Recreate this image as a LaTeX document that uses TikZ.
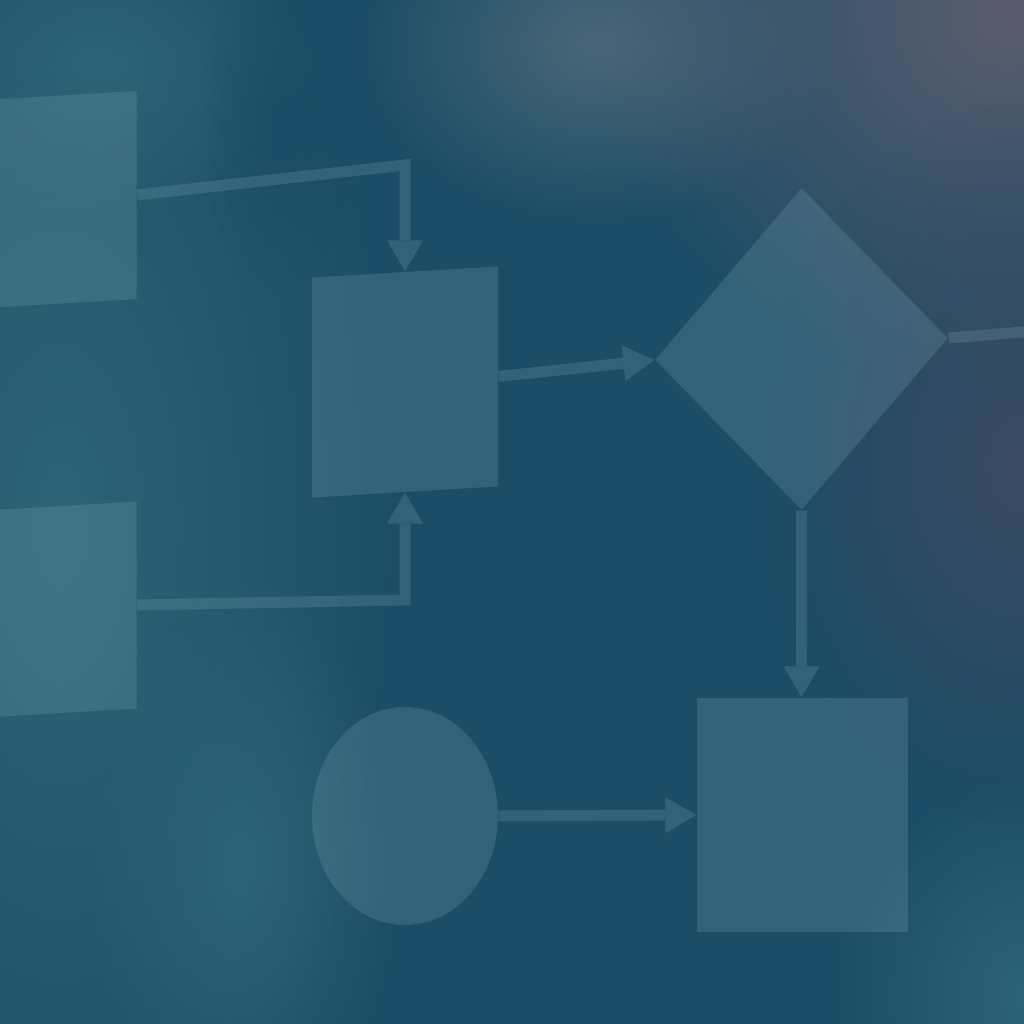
\documentclass[tikz,border=0pt]{standalone}
\usepackage{xcolor}
\usepackage{tikz}
\usetikzlibrary{arrows.meta}
\usetikzlibrary{shapes}
\usetikzlibrary{positioning}
\usetikzlibrary{fadings}
\definecolor{deepteal}{HTML}{1C4D66}
\definecolor{sideteal}{HTML}{2D6477}
\definecolor{hazeteal}{HTML}{4A6878}
\definecolor{dusk}{HTML}{5B5D6F}
\definecolor{duskblue}{HTML}{3A4A62}
\definecolor{shapetint}{HTML}{7FA9B8}
\tikzfading[name=fade out, inner color=transparent!0, outer color=transparent!100]
\tikzset{%
  glow/.style={
    path fading=fade out
  },
  box/.style={
    rectangle,
    draw=none,
    fill=shapetint,
    fill opacity=0.23,
    inner sep=0pt,
    yslant=0.06,
    transform shape
  },
  flow/.style={
    draw=shapetint,
    line width=0.11cm,
    -{Triangle[width=0.36cm,length=0.31cm,fill=shapetint,line width=0pt]}
  },
}

\begin{document}
\begin{tikzpicture}
  \useasboundingbox (0,0) rectangle (10.24,10.24);
  \clip (0,0) rectangle (10.24,10.24);
  % background haze
  \fill [deepteal] (0,0) rectangle (10.24,10.24);
  \fill [sideteal, glow] (0.6,5.0) ellipse (3.4 and 7.5);
  \fill [sideteal, glow] (1.0,9.6) ellipse (2.2 and 1.6);
  \fill [sideteal, glow] (2.4,1.6) ellipse (1.6 and 3.0);
  \fill [hazeteal, glow] (6.0,9.8) ellipse (2.4 and 1.8);
  \fill [dusk, glow] (10.1,10.1) ellipse (4.2 and 3.8);
  \fill [duskblue, glow] (10.2,5.6) ellipse (2.6 and 3.6);
  \fill [sideteal, glow] (10.3,0.3) ellipse (2.0 and 2.2);
  \fill [deepteal, glow] (2.8,9.0) ellipse (0.8 and 1.6);

  % shapes
  \node (a) [xshift=0.53cm,yshift=8.24cm,box,minimum width=1.67cm,minimum height=2.08cm] {};
  \node (b) [xshift=4.05cm,yshift=6.42cm,box,minimum width=1.86cm,minimum height=2.20cm] {};
  \node (c) [xshift=0.53cm,yshift=4.14cm,box,minimum width=1.67cm,minimum height=2.07cm] {};
  \node (d) [xshift=8.015cm,yshift=6.75cm,box,diamond,yslant=0.015,
    minimum width=2.93cm,minimum height=3.22cm] {};
  \node (e) [xshift=8.025cm,yshift=2.09cm,box,yslant=-0.06,
    minimum width=2.11cm,minimum height=2.34cm] {};
  \node (f) [xshift=4.05cm,yshift=2.08cm,box,ellipse,yslant=-0.06,
    minimum width=1.86cm,minimum height=2.18cm] {};

  % connectors
  \coordinate (k1) at (4.05,8.59);
  \coordinate (k2) at (4.05,4.24);
  \coordinate (k3) at (10.35,6.93);
  \begin{scope}[transparency group, opacity=0.23]
    \draw   [flow] (a.east)--(k1)--(k1 |- b.north);
    \draw   [flow] (c.east)--(k2)--(k2 |- b.south);
    \draw   [flow] (b.east)--(d.west);
    \draw   [flow, -] (d.east)--(k3);
    \draw   [flow] (d.south)--(d.south |- e.north);
    \draw   [flow] (f.east)--(e.west);
  \end{scope}
\end{tikzpicture}
\end{document}
